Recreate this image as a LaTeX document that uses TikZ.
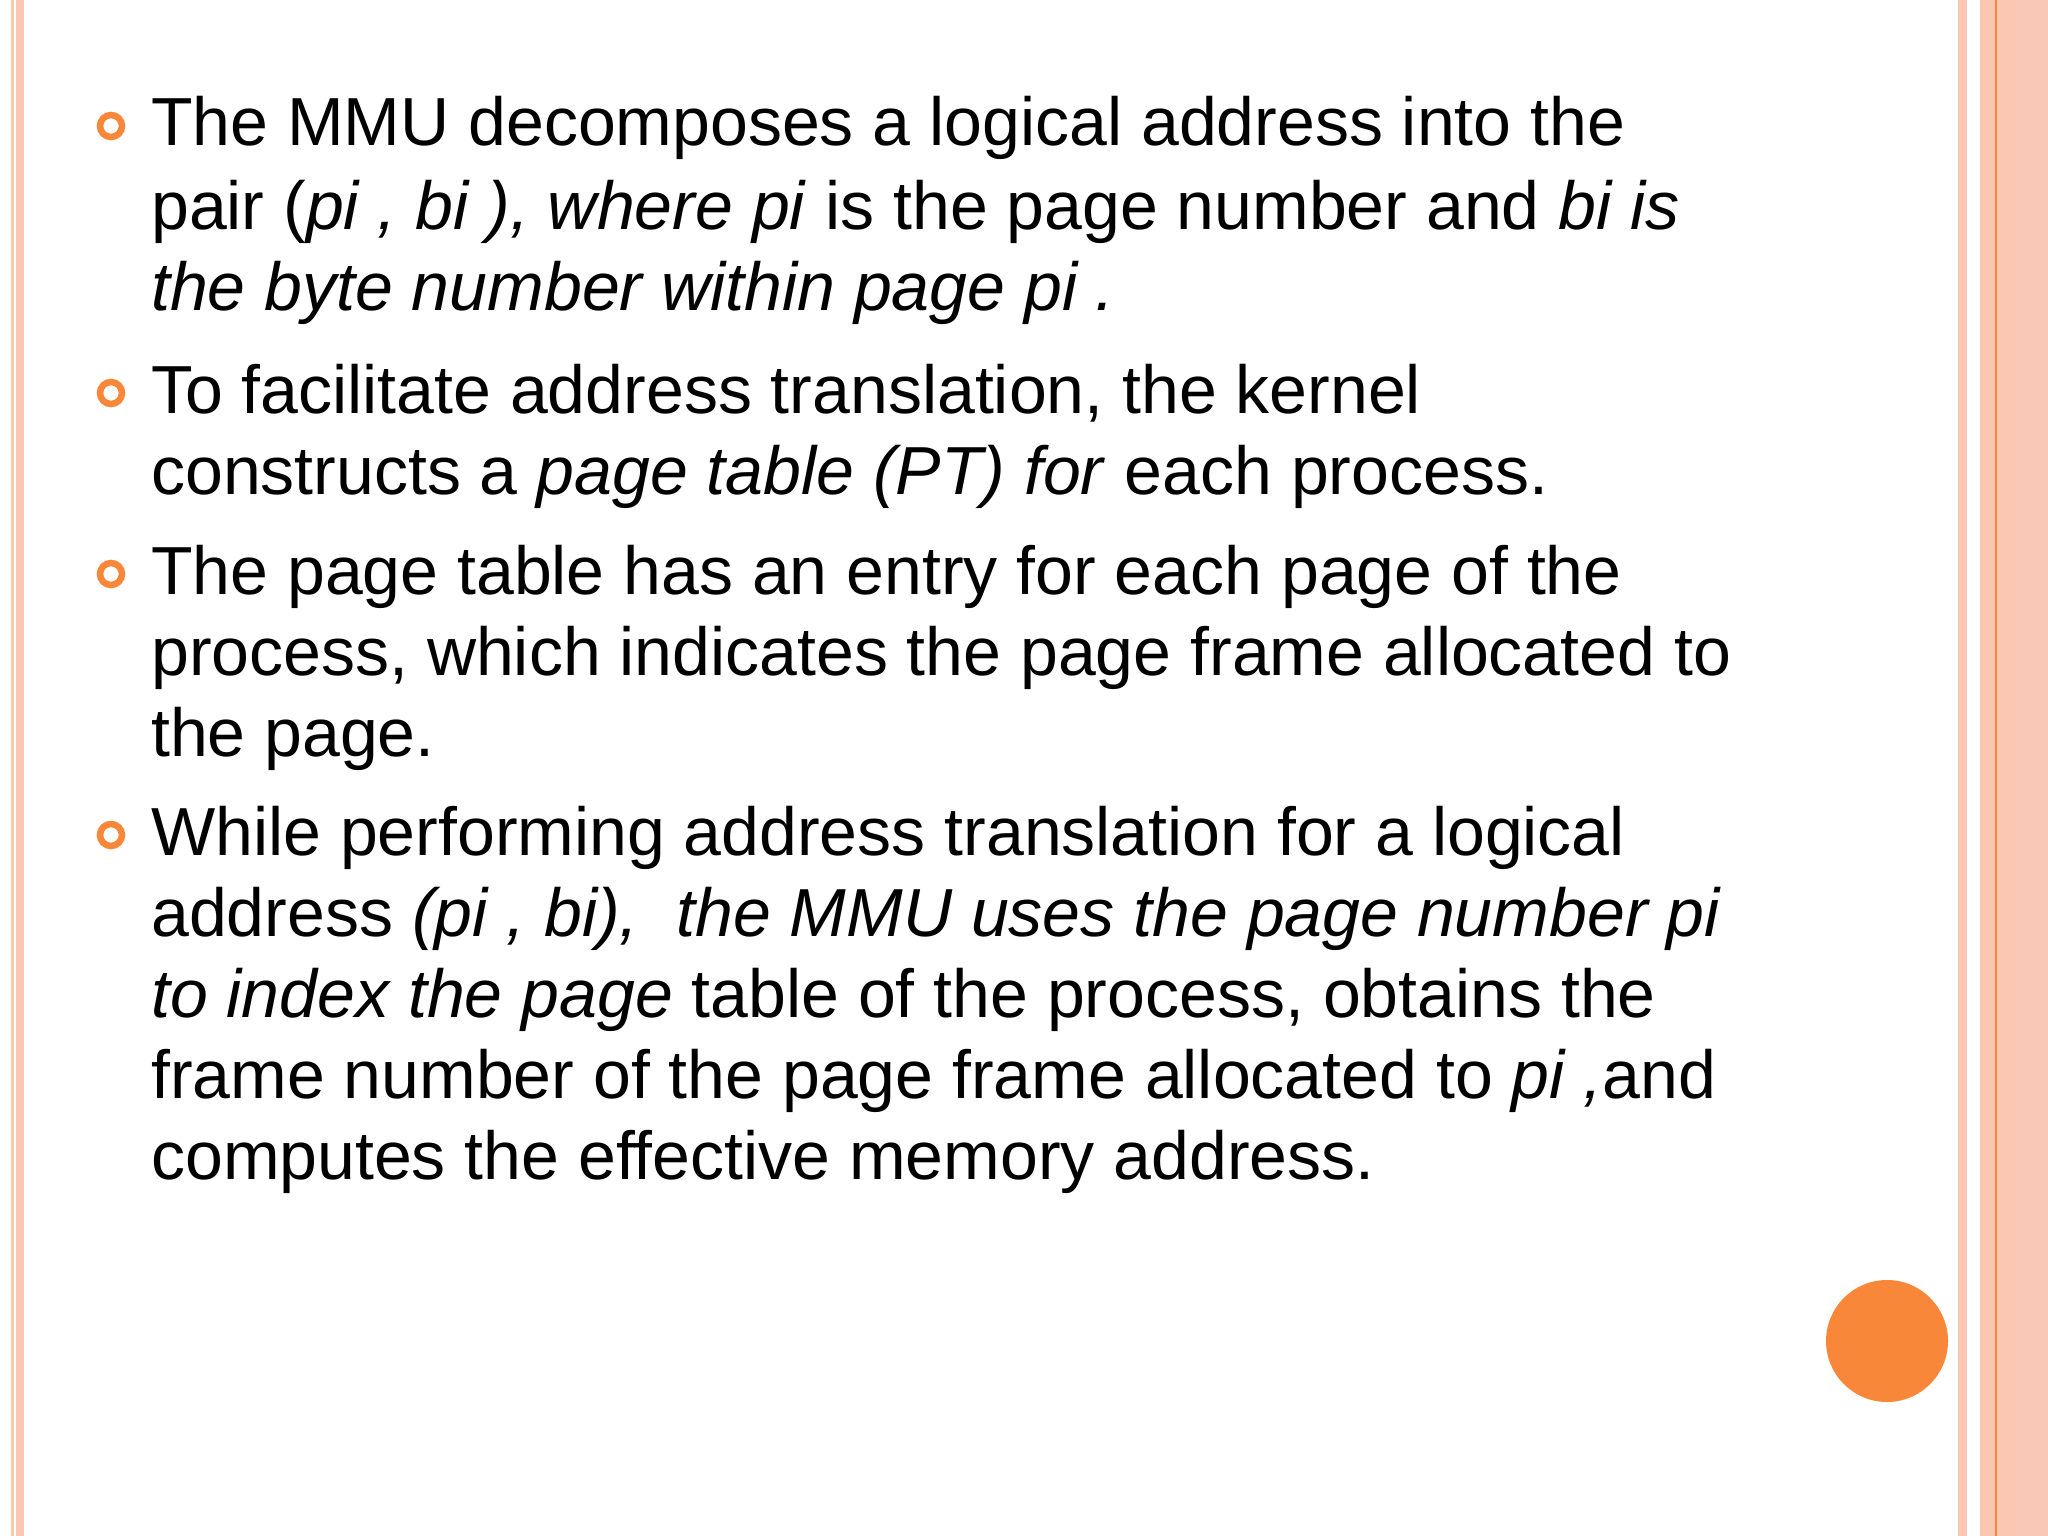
\documentclass[tikz,border=0pt]{standalone}
\usepackage{fontspec}
\setmainfont{Liberation Sans}
\definecolor{salmon}{HTML}{FBC6B2}
\definecolor{salmonB}{HTML}{F9C8B6}
\definecolor{orng}{HTML}{F8873A}
\begin{document}
\begin{tikzpicture}[x=1pt,y=-1pt,
  ln/.style={anchor=base west,inner sep=0pt,font=\fontsize{68}{80}\selectfont},
  bul/.style={circle,draw=orng,line width=6.5pt,minimum size=22pt,inner sep=0pt}]
\useasboundingbox (0,0) rectangle (2048,1536);
\fill[white] (0,0) rectangle (2048,1536);
\fill[salmon] (11,0) rectangle (14,1536);
\fill[salmon] (16,0) rectangle (24,1536);
\fill[salmon] (1958,0) rectangle (1967,1536);
\fill[salmon] (1980,0) rectangle (2048,1536);
\fill[salmonB] (2016,0) rectangle (2048,1536);
\draw[orng,line width=1.5pt] (1996,0) -- (1996,1536);
\fill[orng] (1887,1341) circle (61);
\foreach \y/\n in {146/b1,413/b2,594/b3,855/b4}
  \node[bul] (\n) at (111,\y-20) {};
\node[ln] (l1) at (151,146) {The MMU decomposes a logical address into the};
\node[ln] (l2) at (151,229) {pair (\textit{pi , bi ), where pi} is the page number and \textit{bi is}};
\node[ln] (l3) at (151,310) {\textit{the byte number within page pi .}};
\node[ln] (l4) at (151,413) {To facilitate address translation, the kernel};
\node[ln] (l5) at (151,494) {constructs a \textit{page table (PT) for} each process.};
\node[ln] (l6) at (151,594) {The page table has an entry for each page of the};
\node[ln] (l7) at (151,675) {process, which indicates the page frame allocated to};
\node[ln] (l8) at (151,756) {the page.};
\node[ln] (l9) at (151,855) {While performing address translation for a logical};
\node[ln] (l10) at (151,936) {address \textit{(pi , bi),\ \ the MMU uses the page number pi}};
\node[ln] (l11) at (151,1017) {\textit{to index the page} table of the process, obtains the};
\node[ln] (l12) at (151,1098) {frame number of the page frame allocated to \textit{pi ,}and};
\node[ln] (l13) at (151,1179) {computes the effective memory address.};
\end{tikzpicture}
\end{document}
